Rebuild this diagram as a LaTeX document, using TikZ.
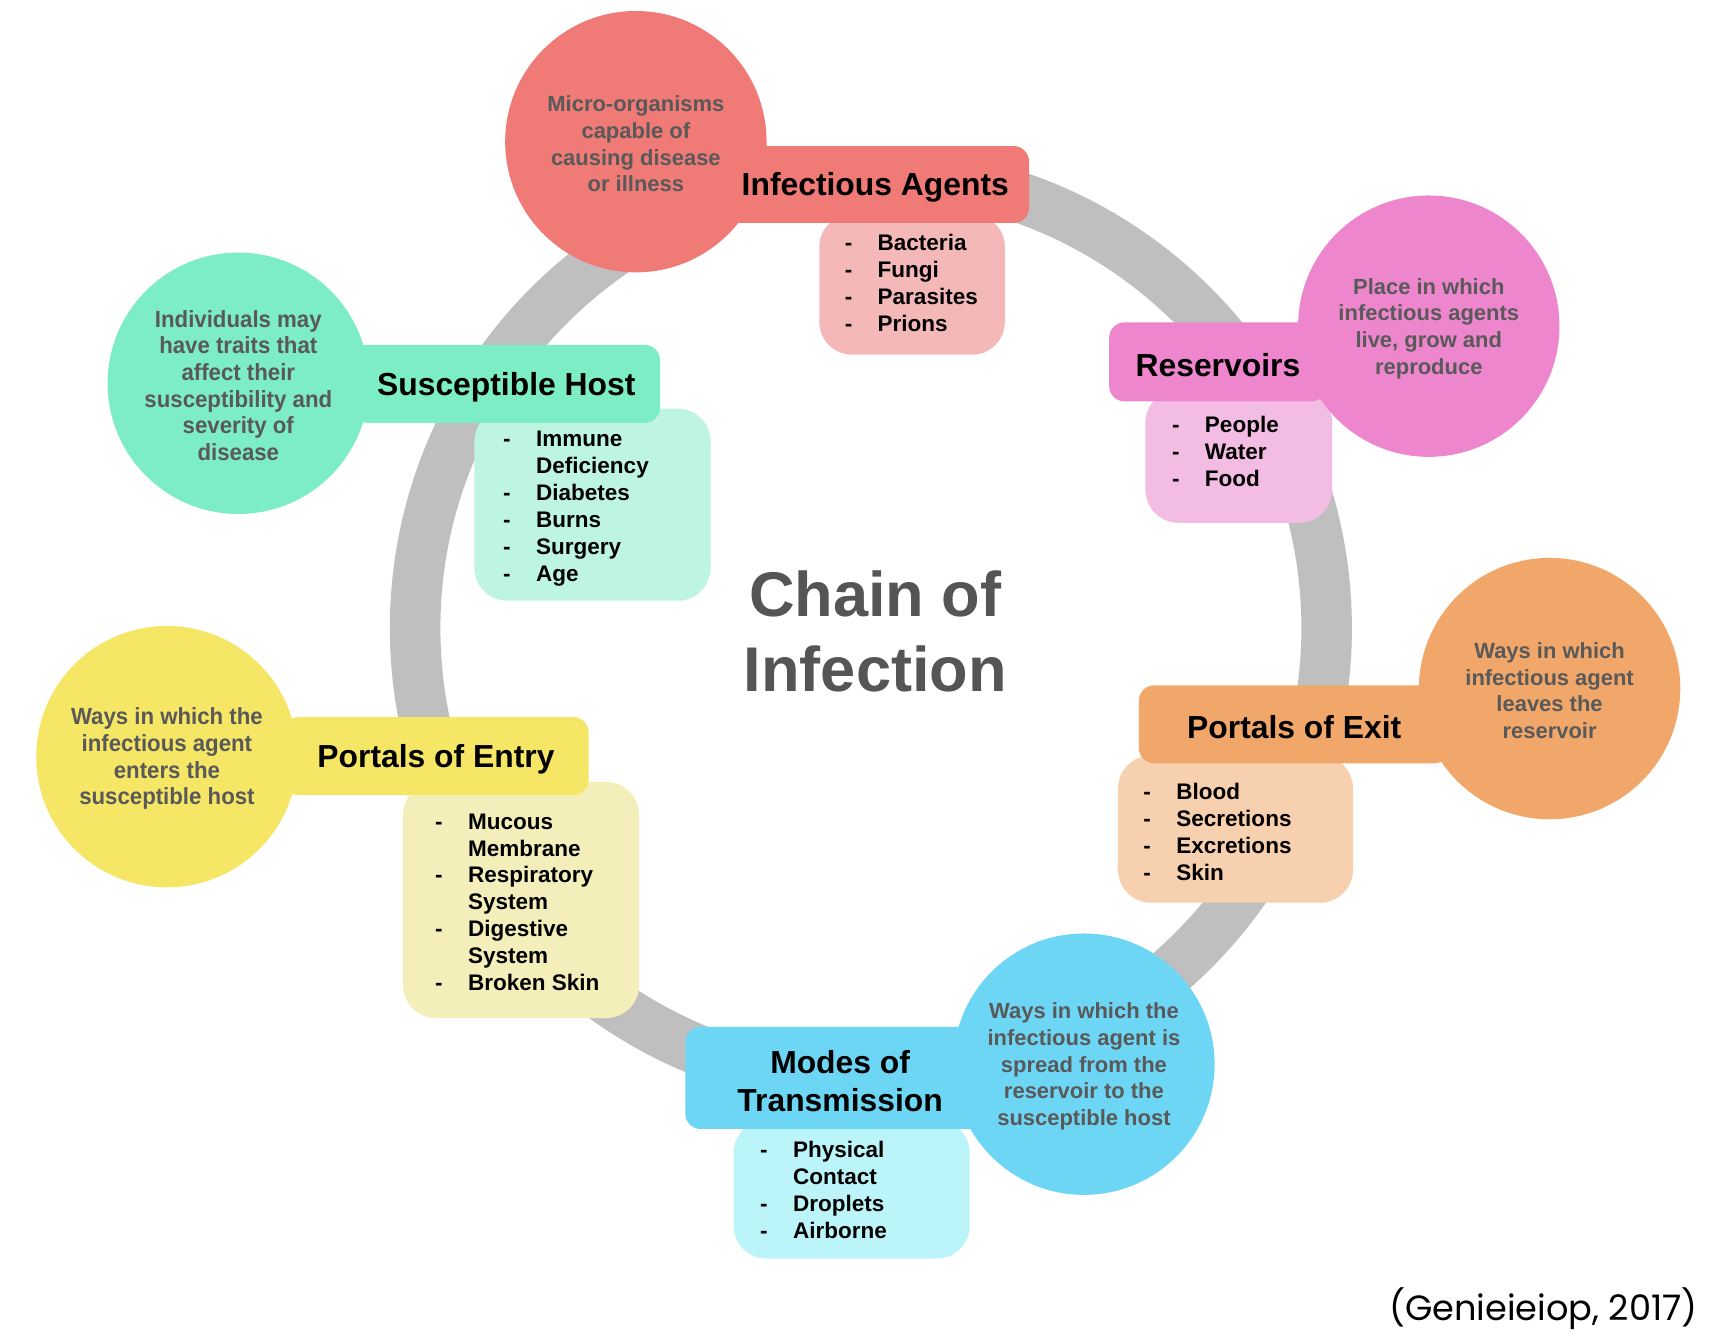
\documentclass[tikz,border=0pt]{standalone}
\usepackage{fontspec}
\setmainfont{Liberation Sans}
\newfontfamily\poppfont{Poppins}
\newfontfamily\narrowfont[FakeStretch=0.95]{Liberation Sans}
\definecolor{ringgray}{HTML}{BFBFBF}
\definecolor{descgray}{HTML}{595959}
\definecolor{titlegray}{HTML}{555555}
\definecolor{redA}{HTML}{EF7A76}
\definecolor{redB}{HTML}{F4B8B8}
\definecolor{pinkA}{HTML}{EE86CD}
\definecolor{pinkB}{HTML}{F3BCE3}
\definecolor{orangeA}{HTML}{F1A769}
\definecolor{orangeB}{HTML}{F7D1AF}
\definecolor{blueA}{HTML}{6ED6F5}
\definecolor{blueB}{HTML}{BCF5F9}
\definecolor{yellowA}{HTML}{F6E665}
\definecolor{yellowB}{HTML}{F4EFBA}
\definecolor{greenA}{HTML}{7CEDC4}
\definecolor{greenB}{HTML}{BEF5E2}
\tikzset{
  hdrbox/.style={rectangle, rounded corners=14pt, inner sep=0pt, draw=none},
  listbox/.style={rectangle, rounded corners=30pt, inner sep=0pt, draw=none},
  bubble/.style={circle, minimum size=238pt, inner sep=0pt, draw=none},
  desc/.style={align=center, text=descgray, yshift=-2pt, font=\fontsize{20}{24.3}\selectfont\bfseries},
  descn/.style={align=center, text=descgray, yshift=-2pt, font=\narrowfont\fontsize{21.3}{24.3}\selectfont\bfseries},
  hdrtext/.style={align=center, text=black, yshift=-3pt, font=\fontsize{29}{35}\selectfont\bfseries},
  listtext/.style={anchor=base west, inner sep=0pt, text=black, font=\fontsize{20.5}{24.5}\selectfont\bfseries},
}
\newcommand{\itm}{-&}
\begin{document}
\begin{tikzpicture}[x=1pt,y=-1pt]
\fill[white] (0,0) rectangle (1568,1222);
\useasboundingbox (0,0) rectangle (1568,1222);
% ring
\node[circle, draw=ringgray, line width=46pt, minimum size=830pt, inner sep=0pt] (ring) at (793,572) {};
% Infectious agents
\node[listbox, fill=redB, minimum width=169pt, minimum height=128pt] (ial) at (830.5,259) {};
\node[hdrbox, fill=redA, minimum width=280pt, minimum height=70pt] (iah) at (797,168) {};
\node[bubble, fill=redA] (iac) at (579,129) {};
% Reservoirs
\node[listbox, fill=pinkB, minimum width=170pt, minimum height=121pt] (rel) at (1128,415.5) {};
\node[hdrbox, fill=pinkA, minimum width=198pt, minimum height=72pt] (reh) at (1109,329.5) {};
\node[bubble, fill=pinkA] (rec) at (1301,297) {};
% Portals of exit
\node[listbox, fill=orangeB, minimum width=214pt, minimum height=134pt] (exl) at (1125,755) {};
\node[hdrbox, fill=orangeA, minimum width=283pt, minimum height=71pt] (exh) at (1178.5,659.5) {};
\node[bubble, fill=orangeA] (exc) at (1411,627) {};
% Modes of transmission
\node[listbox, fill=blueB, minimum width=215pt, minimum height=126pt] (mol) at (775.5,1083) {};
\node[hdrbox, fill=blueA, minimum width=282pt, minimum height=93pt] (moh) at (765,981.5) {};
\node[bubble, fill=blueA] (moc) at (987,969) {};
% Portals of entry
\node[listbox, fill=yellowB, minimum width=215pt, minimum height=215pt] (enl) at (474.5,819.5) {};
\node[hdrbox, fill=yellowA, minimum width=278pt, minimum height=71pt] (enh) at (397,688.5) {};
\node[bubble, fill=yellowA] (enc) at (152,689) {};
% Susceptible host
\node[listbox, fill=greenB, minimum width=215pt, minimum height=175pt] (shl) at (539.5,459.5) {};
\node[hdrbox, fill=greenA, minimum width=280pt, minimum height=71pt] (shh) at (461,349.5) {};
\node[bubble, fill=greenA] (shc) at (217,349) {};
% descriptions
\node[desc] at (iac.center) {Micro-organisms\\capable of\\causing disease\\or illness};
\node[desc] at (rec.center) {Place in which\\infectious agents\\live, grow and\\reproduce};
\node[desc] at (exc.center) {Ways in which\\infectious agent\\leaves the\\reservoir};
\node[desc] at (moc.center) {Ways in which the\\infectious agent is\\spread from the\\reservoir to the\\susceptible host};
\node[descn] at (enc.center) {Ways in which the\\infectious agent\\enters the\\susceptible host};
\node[descn] at (shc.center) {Individuals may\\have traits that\\affect their\\susceptibility and\\severity of\\disease};
% headers
\node[hdrtext] at (iah.center) {Infectious Agents};
\node[hdrtext] at (reh.center) {Reservoirs};
\node[hdrtext] at (exh.center) {Portals of Exit};
\node[hdrtext] at (moh.center) {Modes of\\Transmission};
\node[hdrtext] at (enh.center) {Portals of Entry};
\node[hdrtext] at (shh.center) {Susceptible Host};
% lists
\node[listtext] (ialt) at (769,228) {\begin{tabular}[t]{@{}p{30pt}@{}l@{}}\itm Bacteria\\ \itm Fungi\\ \itm Parasites\\ \itm Prions\end{tabular}};
\node[listtext] (relt) at (1067,394) {\begin{tabular}[t]{@{}p{30pt}@{}l@{}}\itm People\\ \itm Water\\ \itm Food\end{tabular}};
\node[listtext] (exlt) at (1041,728) {\begin{tabular}[t]{@{}p{30pt}@{}l@{}}\itm Blood\\ \itm Secretions\\ \itm Excretions\\ \itm Skin\end{tabular}};
\node[listtext] (molt) at (692,1054) {\begin{tabular}[t]{@{}p{30pt}@{}l@{}}\itm Physical\\ & Contact\\ \itm Droplets\\ \itm Airborne\end{tabular}};
\node[listtext] (enlt) at (396,755) {\begin{tabular}[t]{@{}p{30pt}@{}l@{}}\itm Mucous\\ & Membrane\\ \itm Respiratory\\ & System\\ \itm Digestive\\ & System\\ \itm Broken Skin\end{tabular}};
\node[listtext] (shlt) at (458,407) {\begin{tabular}[t]{@{}p{30pt}@{}l@{}}\itm Immune\\ & Deficiency\\ \itm Diabetes\\ \itm Burns\\ \itm Surgery\\ \itm Age\end{tabular}};
% title
\node[align=center, text=titlegray, font=\fontsize{57.5}{68}\selectfont\bfseries] (title) at (797,575) {Chain of\\Infection};
% citation
\node[anchor=east, inner sep=0pt, font=\poppfont\fontsize{32}{38}\selectfont] (cite) at (1546,1192) {(Genieieiop, 2017)};
\end{tikzpicture}
\end{document}
